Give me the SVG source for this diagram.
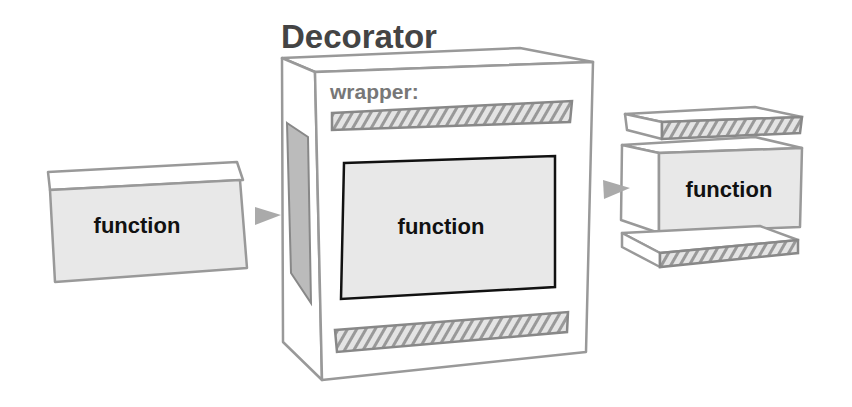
<svg xmlns="http://www.w3.org/2000/svg" width="852" height="407" viewBox="0 0 852 407">
<defs>
<pattern id="hatch" width="8" height="8" patternUnits="userSpaceOnUse" patternTransform="rotate(30)">
<rect width="8" height="8" fill="#e4e4e4"/><rect width="3" height="8" fill="#999"/>
</pattern>
</defs>
<style>
.face{fill:#fff;stroke:#999;stroke-width:2.5;stroke-linejoin:round}
.front{fill:#e8e8e8;stroke:#999;stroke-width:2.5;stroke-linejoin:round}
.hatch{fill:url(#hatch);stroke:#888;stroke-width:2.5}
.lbl{font-family:"Liberation Sans",Arial,sans-serif;font-weight:bold;font-size:22px;fill:#111;text-anchor:middle}
.arr{fill:#aaa}
</style>
<rect width="852" height="407" fill="#fff"/>
<g id="input-function">
<polygon class="face" points="48,172 237,162 243,180 50,190"/>
<polygon class="front" points="50,190 240,180 247,268 55,282"/>
<text class="lbl" x="137" y="233">function</text>
</g>
<g id="decorator">
<text x="281" y="48" font-family="Liberation Sans,Arial,sans-serif" font-weight="bold" font-size="33" fill="#444">Decorator</text>
<polygon class="face" points="282,58 520,48 593,62 315,72"/>
<polygon class="face" points="282,58 315,72 322,380 283,342"/>
<polygon points="287,123 308,137 311,303 291,273" fill="#bbb" stroke="#888" stroke-width="2"/>
<polygon class="face" points="315,72 593,62 586,352 322,380"/>
<text x="330" y="99" font-family="Liberation Sans,Arial,sans-serif" font-weight="bold" font-size="21" fill="#777">wrapper:</text>
<polygon class="hatch" points="332,113 572,101 570,122 332,130"/>
<polygon class="hatch" points="335,330 568,312 567,332 337,352"/>
<g id="inner-function">
<polygon points="344,163 555,156 555,287 341,299" fill="#e8e8e8" stroke="#111" stroke-width="2.5"/>
<text class="lbl" x="441" y="234">function</text>
</g>
</g>
<g id="decorated-function">
<polygon class="face" points="625,114 755,107 802,117 662,122"/>
<polygon class="face" points="625,114 662,122 662,139 627,130"/>
<polygon class="hatch" points="662,122 802,117 800,133 662,139"/>
<polygon class="face" points="622,145 755,137 802,148 659,153"/>
<polygon class="face" points="622,145 659,153 659,233 621,220"/>
<polygon class="front" points="659,153 802,148 800,227 659,233"/>
<text class="lbl" x="729" y="197">function</text>
<polygon class="face" points="622,233 760,226 798,240 660,253"/>
<polygon class="face" points="622,233 660,253 660,267 622,247"/>
<polygon class="hatch" points="660,253 798,240 798,253 660,267"/>
</g>
<g id="connectors">
<polygon class="arr" points="255,207 281,215 255,225"/>
<polygon class="arr" points="603,180 630,188 604,199"/>
</g>
</svg>
